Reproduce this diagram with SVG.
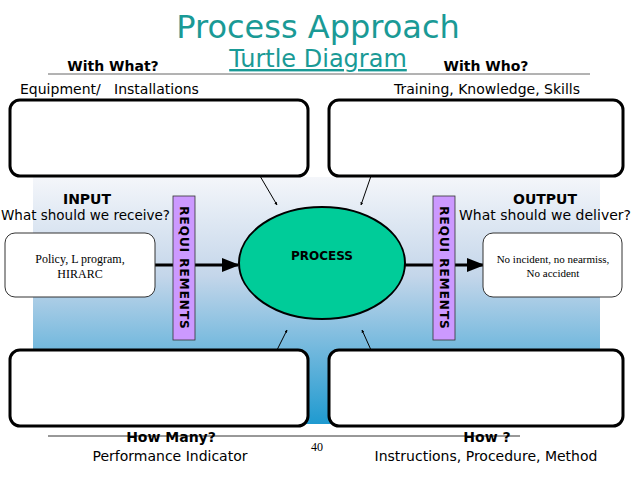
<svg xmlns="http://www.w3.org/2000/svg" width="638" height="478" viewBox="0 0 638 478">
<style>
.v{font-family:"DejaVu Sans","Verdana",sans-serif;fill:#000}
.t{font-family:"DejaVu Sans",sans-serif;fill:#1a9a96}
.s{font-family:"Liberation Serif",serif;fill:#000}
.box{fill:#fff;stroke:#000;stroke-width:3}
.sm{fill:#fff;stroke:#333;stroke-width:1}
.req{fill:#cc99ff;stroke:#333;stroke-width:0.8}
.ln{stroke:#000;stroke-width:1;fill:none}
</style>
<defs>
<linearGradient id="bg" x1="0" y1="0" x2="0" y2="1">
<stop offset="0" stop-color="#f4f6fa"/>
<stop offset="0.4" stop-color="#c4d6ea"/>
<stop offset="1" stop-color="#1f9ad0"/>
</linearGradient>
<marker id="a" viewBox="0 0 10 10" refX="9" refY="5" markerWidth="6" markerHeight="6" orient="auto"><path d="M0,1 L10,5 L0,9 z" fill="#000"/></marker>
<marker id="b" viewBox="0 0 10 10" refX="9" refY="5" markerWidth="3" markerHeight="3" orient="auto"><path d="M0,0 L10,5 L0,10 z" fill="#000"/></marker>
</defs>
<rect x="33" y="177" width="567" height="247" fill="url(#bg)"/>
<text class="t" x="318" y="38" font-size="32" text-anchor="middle">Process Approach</text>
<text class="t" x="318" y="67" font-size="24" text-anchor="middle" text-decoration="underline">Turtle Diagram</text>
<line x1="48" y1="74" x2="590" y2="74" stroke="#666" stroke-width="1"/>
<line x1="48" y1="436" x2="520" y2="436" stroke="#333" stroke-width="1"/>
<text class="v" x="113" y="71" font-size="14" font-weight="bold" text-anchor="middle">With What?</text>
<text class="v" x="486" y="71" font-size="14" font-weight="bold" text-anchor="middle">With Who?</text>
<text class="v" x="20" y="94" font-size="14" xml:space="preserve">Equipment/   Installations</text>
<text class="v" x="580" y="94" font-size="14" text-anchor="end">Training, Knowledge, Skills</text>
<g id="connectors">
<line class="ln" x1="260" y1="176" x2="277" y2="205" marker-end="url(#b)"/>
<line class="ln" x1="371" y1="176" x2="361" y2="205" marker-end="url(#b)"/>
<line class="ln" x1="277" y1="350" x2="287" y2="330" marker-end="url(#b)"/>
<line class="ln" x1="371" y1="350" x2="362" y2="330" marker-end="url(#b)"/>
<line x1="155" y1="265" x2="238" y2="265" stroke="#000" stroke-width="3" marker-end="url(#a)"/>
<line x1="404" y1="265" x2="483" y2="265" stroke="#000" stroke-width="3" marker-end="url(#a)"/>
</g>
<g id="top-left"><rect class="box" x="10" y="100" width="298" height="76" rx="10"/></g>
<g id="top-right"><rect class="box" x="329" y="100" width="294" height="76" rx="10"/></g>
<g id="bottom-left"><rect class="box" x="10" y="350" width="298" height="76" rx="10"/></g>
<g id="bottom-right"><rect class="box" x="329" y="350" width="294" height="76" rx="10"/></g>
<g id="input-label">
<text class="v" x="87" y="204" font-size="14" font-weight="bold" text-anchor="middle">INPUT</text>
<text class="v" x="1" y="220" font-size="13.5">What should we receive?</text>
</g>
<g id="output-label">
<text class="v" x="545" y="204" font-size="14" font-weight="bold" text-anchor="middle">OUTPUT</text>
<text class="v" x="545" y="220" font-size="14" text-anchor="middle">What should we deliver?</text>
</g>
<g id="req-left"><rect class="req" x="173" y="196" width="22" height="144"/>
<text class="v" transform="translate(180,268) rotate(90)" font-size="12" font-weight="bold" text-anchor="middle" letter-spacing="1">REQUI REMENTS</text></g>
<g id="req-right"><rect class="req" x="433" y="196" width="22" height="144"/>
<text class="v" transform="translate(440,268) rotate(90)" font-size="12" font-weight="bold" text-anchor="middle" letter-spacing="1">REQUI REMENTS</text></g>
<g id="input"><rect class="sm" x="5" y="233" width="150" height="64" rx="10"/>
<text class="s" x="80" y="263" font-size="12" text-anchor="middle">Policy, L program,</text>
<text class="s" x="80" y="278" font-size="12" text-anchor="middle">HIRARC</text></g>
<g id="output"><rect class="sm" x="483" y="233" width="139" height="64" rx="10"/>
<text class="s" x="553" y="263" font-size="11" text-anchor="middle">No incident, no nearmiss,</text>
<text class="s" x="553" y="277" font-size="11" text-anchor="middle">No accident</text></g>
<g id="process"><ellipse cx="322" cy="263" rx="83" ry="56" fill="#00cc99" stroke="#000" stroke-width="2"/>
<text class="v" x="322" y="260" font-size="12" font-weight="bold" text-anchor="middle">PROCESS</text></g>
<text class="v" x="171" y="442" font-size="14" font-weight="bold" text-anchor="middle">How Many?</text>
<text class="v" x="487" y="442" font-size="14" font-weight="bold" text-anchor="middle">How ?</text>
<text class="v" x="170" y="461" font-size="14" text-anchor="middle">Performance Indicator</text>
<text class="v" x="486" y="461" font-size="14" text-anchor="middle">Instructions, Procedure, Method</text>
<text class="s" x="317" y="451" font-size="12" text-anchor="middle">40</text>
</svg>
